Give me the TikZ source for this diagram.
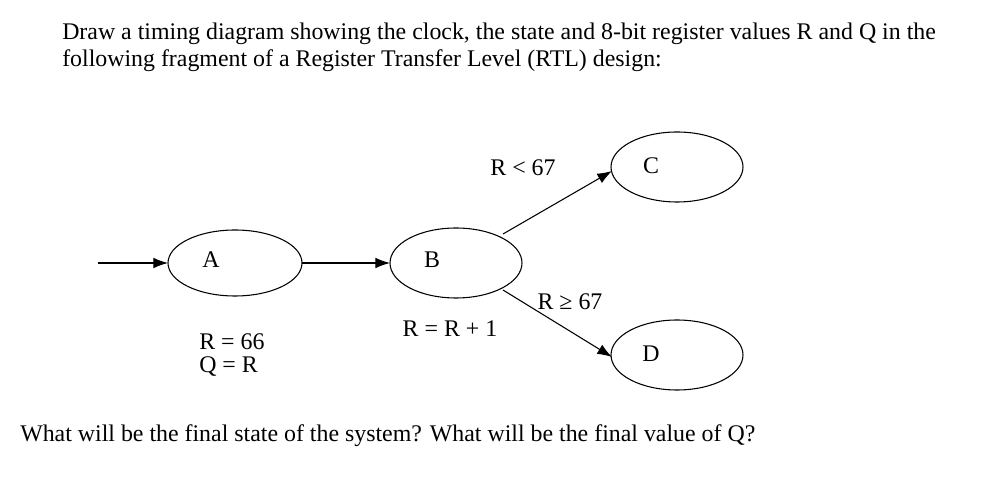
\documentclass[tikz,border=0pt]{standalone}
\usepackage{fontspec}
\setmainfont{Liberation Serif}
\begin{document}
\begin{tikzpicture}[x=0.75pt,y=-0.75pt,
  st/.style={draw,thick,ellipse},
  lab/.style={font=\fontsize{17.9}{21}\selectfont,inner sep=0pt},
  arr/.style={thick,-{Latex[length=11pt,width=8pt]}}]
\usetikzlibrary{arrows.meta,shapes.geometric}
\useasboundingbox (0,0) rectangle (1000,484);
\node[lab,anchor=west] (t1) at (62,34) {Draw a timing diagram showing the clock, the state and 8-bit register values R and Q in the};
\node[lab,anchor=west] (t2) at (62,61) {following fragment of a Register Transfer Level (RTL) design:};
\node[lab,anchor=west] (t3) at (20,436) {What will be the final state of the system? What will be the final value of Q?};
\draw[thick] (235,263) ellipse [x radius=67,y radius=33];
\draw[thick] (456,263) ellipse [x radius=66,y radius=35];
\draw[thick] (677,167) ellipse [x radius=66,y radius=35];
\draw[thick] (677,355) ellipse [x radius=66,y radius=35];
\coordinate (Al) at (168,263); \coordinate (Ar) at (302,263);
\coordinate (Bl) at (390,263); \coordinate (Bt) at (503,234); \coordinate (Bb) at (503,290);
\coordinate (Cl) at (612,171); \coordinate (Dl) at (612,357);
\coordinate (in) at (98,263);
\node[lab] (a) at (211,260) {A};
\node[lab] (b) at (432,260) {B};
\node[lab] (c) at (651,166) {C};
\node[lab] (d) at (651,354) {D};
\draw[arr] (in) -- (Al);
\draw[arr] (Ar) -- (Bl);
\draw[arr] (Bt) -- (Cl);
\draw[arr] (Bb) -- (Dl);
\node[lab] (l1) at (523,168) {R < 67};
\node[lab] (l2) at (570,302) {R ≥ 67};
\node[lab] (l3) at (450,329) {R = R + 1};
\node[lab,anchor=west] (l4) at (199,342) {R = 66};
\node[lab,anchor=west] (l5) at (199,367) {Q = R};
\end{tikzpicture}
\end{document}
